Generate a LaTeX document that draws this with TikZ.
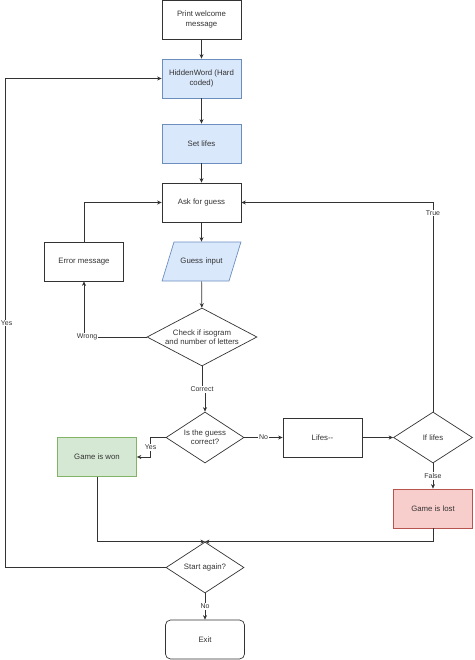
\documentclass[tikz,border=0pt]{standalone}
\usepackage{fontspec}
\setmainfont{Liberation Sans}
\usetikzlibrary{shapes.geometric,arrows.meta}
\definecolor{ink}{HTML}{333333}
\definecolor{bluefill}{HTML}{DAE8FC}
\definecolor{bluedraw}{HTML}{6C8EBF}
\definecolor{greenfill}{HTML}{D5E8D4}
\definecolor{greendraw}{HTML}{82B366}
\definecolor{redfill}{HTML}{F8CECC}
\definecolor{reddraw}{HTML}{B85450}
\begin{document}
\begin{tikzpicture}[x=1pt, y=-1pt,
  every node/.style={font=\fontsize{7.8}{9.3}\selectfont, text=ink},
  box/.style={draw=ink, rectangle, line width=.7pt, minimum width=79pt, minimum height=39pt, align=center, inner sep=1pt},
  bluebox/.style={box, draw=bluedraw, fill=bluefill},
  greenbox/.style={box, draw=greendraw, fill=greenfill},
  redbox/.style={box, draw=reddraw, fill=redfill},
  iobox/.style={draw=bluedraw, fill=bluefill, line width=.7pt, trapezium, trapezium left angle=73, trapezium right angle=107, text width=55pt, align=center, text height=5.5pt, text depth=1.5pt, inner xsep=0pt, inner ysep=16pt},
  decision/.style={draw=ink, diamond, line width=.7pt, shape aspect=1.5, minimum width=78pt, minimum height=51pt, align=center, inner sep=0pt},
  lbl/.style={fill=white, inner sep=1pt, font=\fontsize{7}{8}\selectfont},
  line/.style={draw=ink, line width=.7pt, -{Stealth[length=4.5pt,width=4pt]}}]
  \useasboundingbox (0,0) rectangle (474,660);
          \node [box] (pw) at (201.5,19.5) {Print welcome\\message};
          \node [bluebox] (hw) at (201.5,78.5) {HiddenWord (Hard\\coded)};
          \node [bluebox] (sl) at (201.5,143.5) {Set lifes};
          \node [box] (ag) at (201.5,202.5) {Ask for guess};
          \node [box] (em) at (84,261.5) {Error message};
          \node [iobox] (gi) at (201.5,261.5) {Guess input};
          \node [decision, shape aspect=1.9, minimum width=110pt, minimum height=58pt] (ci) at (202,337) {Check if isogram\\and number of letters};
          \node [decision] (ic) at (205,437.5) {Is the guess\\correct?};
          \node [greenbox] (gw) at (97,457) {Game is won};
          \node [box] (ll) at (322.5,437.5) {Lifes-{}-};
          \node [decision, minimum width=79pt] (il) at (433,437.5) {If lifes};
          \node [redbox] (gl) at (433,508.5) {Game is lost};
          \node [decision] (sa) at (205,567.5) {Start again?};
          \node [box, rounded corners=5pt] (ex) at (205,639.5) {Exit};
\draw[line] (pw) -- (hw);
\draw[line] (hw) -- (sl);
\draw[line] (sl) -- (ag);
\draw[line] (ag) -- (gi);
\draw[line] (gi) -- (ci);
\draw[line] (ci.west) -| node[lbl, pos=.475] {Wrong} (em.south);
\draw[line] (em.north) |- (ag.west);
\draw[line] (ci.south) -- ++(0,23) node[lbl] {Correct} -| (ic.north);
\draw[line] (ic.west) -- ++(-15,0) |- node[lbl, pos=.25] {Yes} (gw.east);
\draw[line] (ic.east) -- node[lbl] {No} (ll.west);
\draw[line] (ll) -- (il);
\draw[line] (il.north) |- node[lbl, pos=.475] {True} (ag.east);
\draw[line] (il) -- node[lbl] {False} (gl);
\draw[line] (gw.south) |- (sa.north);
\draw[line] (gl.south) |- (sa.north);
\draw[line] (sa.south) -- node[lbl] {No} (ex.north);
\draw[line] (sa.west) -- ++(-160,0) |- node[lbl, pos=.25, xshift=1pt] {Yes} (hw.west);

        \end{tikzpicture}
\end{document}
